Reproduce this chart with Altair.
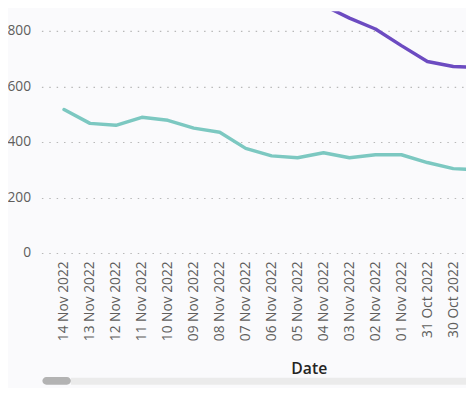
import json
import altair as alt
import pandas as pd

dates = ["14 Nov 2022", "13 Nov 2022", "12 Nov 2022", "11 Nov 2022",
         "10 Nov 2022", "09 Nov 2022", "08 Nov 2022", "07 Nov 2022",
         "06 Nov 2022", "05 Nov 2022", "04 Nov 2022", "03 Nov 2022",
         "02 Nov 2022", "01 Nov 2022", "31 Oct 2022", "30 Oct 2022",
         "29 Oct 2022"]
teal_values = [517, 467, 460, 489, 478, 450, 435, 377,
               350, 343, 361, 343, 354, 354, 326, 304, 300]
purple_dates = ["06 Nov 2022", "05 Nov 2022", "04 Nov 2022", "03 Nov 2022",
                "02 Nov 2022", "01 Nov 2022", "31 Oct 2022", "30 Oct 2022",
                "29 Oct 2022"]
purple_values = [950, 898, 892, 846, 807, 747, 690, 672, 668]
visible_labels = 16
series_names = ["Series A", "Series B"]
series_colors = ["#7cc8c1", "#6c4bc1"]
y_ticks = [0, 200, 400, 600, 800]

rows = [{"Date": d, "Pos": dates.index(d), "Series": series_names[0], "Value": v}
        for d, v in zip(dates, teal_values)]
rows += [{"Date": d, "Pos": dates.index(d), "Series": series_names[1], "Value": v}
         for d, v in zip(purple_dates, purple_values)]
df = pd.DataFrame(rows)

FONT = "Open Sans"
LABEL_COLOR = "#605E5C"
label_expr = json.dumps(dates) + "[datum.value]"

x_enc = alt.X("Pos:Q",
              scale=alt.Scale(domain=[-0.871, 15.49], nice=False, zero=False),
              axis=alt.Axis(title="Date", values=list(range(visible_labels)),
                            labelExpr=label_expr,
                            labelAngle=270, labelAlign="right",
                            labelBaseline="middle", labelPadding=8,
                            labelFont=FONT, labelFontSize=14, labelColor=LABEL_COLOR,
                            ticks=False, domain=False, grid=False, labelOverlap=False,
                            labelFlush=False,
                            titleFont=FONT, titleFontSize=16, titleFontWeight=600,
                            titleColor="#252423", titleX=272, titleY=118,
                            titleAlign="center", titleBaseline="middle"))
y_enc = alt.Y("Value:Q",
              scale=alt.Scale(domain=[0, 870.8], nice=False, zero=True),
              axis=alt.Axis(title=None, values=y_ticks, labelPadding=11,
                            labelFont=FONT, labelFontSize=14, labelColor=LABEL_COLOR,
                            ticks=False, domain=False, grid=True,
                            gridColor="#b8b8b8", gridDash=[1.5, 6], gridWidth=1.2))

lines = alt.Chart(df).mark_line(strokeWidth=3.5, clip=True, strokeJoin="round",
                                strokeCap="round").encode(
    x=x_enc, y=y_enc,
    color=alt.Color("Series:N", scale=alt.Scale(domain=series_names, range=series_colors),
                    legend=None),
    detail="Series:N",
    order="Pos:Q",
)

track = alt.Chart(pd.DataFrame({"k": [0]})).mark_rect(color="#ebebeb").encode(
    x=alt.value(30), x2=alt.value(432), y=alt.value(373), y2=alt.value(380))
thumb = alt.Chart(pd.DataFrame({"k": [0]})).mark_rect(
    color="#b3b3b3", cornerRadius=4).encode(
    x=alt.value(1), x2=alt.value(30), y=alt.value(372), y2=alt.value(380))

chart = alt.layer(lines, track, thumb).properties(
    width=432, height=246,
    autosize=alt.AutoSizeParams(type="none"),
    padding={"left": 34, "top": 0, "right": 0, "bottom": 134},
    background="#fafafc",
).configure_view(stroke=None)

chart.save("out.html", embed_options={"renderer": "svg", "actions": False})
